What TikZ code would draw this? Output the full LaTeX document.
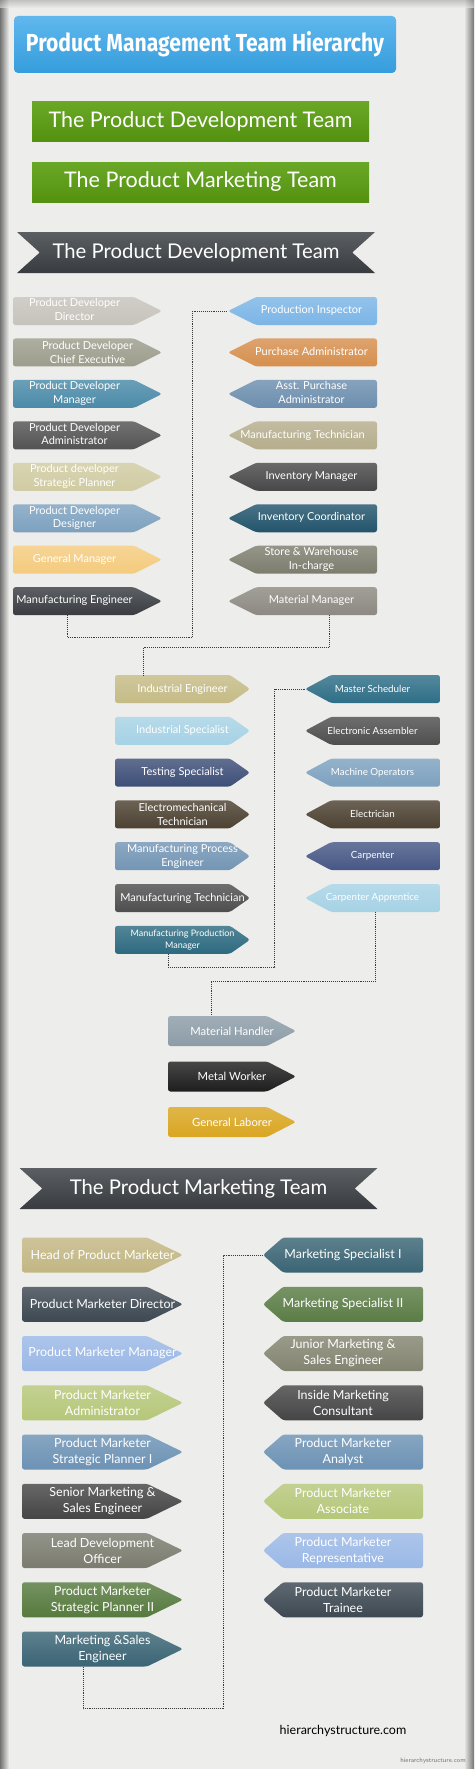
\documentclass[tikz,border=0pt]{standalone}
\usepackage{fontspec}
\setmainfont{Lato}
\newfontfamily\titlefont{Fira Sans}
\usepackage{tikz}
\usetikzlibrary{shapes.symbols,positioning}
\usepackage{xcolor}
\usepackage{graphicx}

\newcommand\padl[1]{\begin{tabular}{@{}c@{\hspace{26pt}}}#1\end{tabular}}
\newcommand\padr[1]{\begin{tabular}{@{\hspace{18pt}}c@{}}#1\end{tabular}}

\definecolor{paper}{HTML}{EDEDEB}
\definecolor{titleblue}{HTML}{38A5E8}
\definecolor{teamgreen}{HTML}{5A9E10}
\definecolor{ribbongray}{HTML}{3E4246}
\definecolor{linkgray}{HTML}{3A3A3A}

\definecolor{cA}{HTML}{C6C3BC}
\definecolor{cB}{HTML}{9C9D8C}
\definecolor{cC}{HTML}{4A8AA8}
\definecolor{cD}{HTML}{535353}
\definecolor{cE}{HTML}{D0CBA2}
\definecolor{cF}{HTML}{7DA1BF}
\definecolor{cG}{HTML}{F4CB7E}
\definecolor{cH}{HTML}{393C41}
\definecolor{cI}{HTML}{7BB5E6}
\definecolor{cJ}{HTML}{D68F4E}
\definecolor{cK}{HTML}{6C8EAE}
\definecolor{cL}{HTML}{B5AD8C}
\definecolor{cM}{HTML}{484848}
\definecolor{cN}{HTML}{22546B}
\definecolor{cO}{HTML}{7D7D6E}
\definecolor{cP}{HTML}{8D8982}
\definecolor{cQ}{HTML}{C5BB86}
\definecolor{cR}{HTML}{A6D2E5}
\definecolor{cS}{HTML}{3D4E77}
\definecolor{cT}{HTML}{4C4131}
\definecolor{cU}{HTML}{7395B4}
\definecolor{cV}{HTML}{4E4E4E}
\definecolor{cW}{HTML}{2D6A80}
\definecolor{cX}{HTML}{2E6E87}
\definecolor{cY}{HTML}{465785}
\definecolor{cZ}{HTML}{8C9CA7}
\definecolor{cmw}{HTML}{1E1E1E}
\definecolor{cgl}{HTML}{D9A621}
\definecolor{mA}{HTML}{C2B682}
\definecolor{mB}{HTML}{3D4852}
\definecolor{mC}{HTML}{9AB8E6}
\definecolor{mD}{HTML}{B5C779}
\definecolor{mE}{HTML}{6C92B4}
\definecolor{mF}{HTML}{454545}
\definecolor{mG}{HTML}{7B7C6F}
\definecolor{mH}{HTML}{567A3E}
\definecolor{mI}{HTML}{3A6474}
\definecolor{mJ}{HTML}{5A7C45}
\definecolor{mK}{HTML}{838470}

\begin{document}
\begin{tikzpicture}[x=1pt,y=-1pt,line width=0.2mm,
  tiplen/.store in=\tagtip, tiplen=28pt,
  tagbase/.style={rectangle,text=white,draw=none,inner sep=0.5pt,
    minimum width=149pt,minimum height=28pt,node distance=41.45pt,
    font=\fontsize{11}{13.5}\selectfont},
  tagR/.style={tagbase,path picture={\shade[top color=#1!82!white,bottom color=#1,rounded corners=2.5pt]
    (path picture bounding box.north west) -- ([xshift=-\tagtip]path picture bounding box.north east)
    -- (path picture bounding box.east) -- ([xshift=-\tagtip]path picture bounding box.south east)
    -- (path picture bounding box.south west) -- cycle;}},
  tagL/.style={tagbase,path picture={\shade[top color=#1!82!white,bottom color=#1,rounded corners=2.5pt]
    (path picture bounding box.west) -- ([xshift=\tagtip]path picture bounding box.north west)
    -- (path picture bounding box.north east) -- (path picture bounding box.south east)
    -- ([xshift=\tagtip]path picture bounding box.south west) -- cycle;}},
  devR/.style={tagR=#1,align=center},
  devL/.style={tagL=#1,align=center},
  midR/.style={tagR=#1,align=center,tiplen=20pt,minimum width=135pt,node distance=41.8pt,
    font=\fontsize{11}{14}\selectfont},
  midL/.style={tagL=#1,align=center,tiplen=26pt,minimum width=135pt,node distance=41.8pt,
    font=\fontsize{9.8}{12}\selectfont},
  lowR/.style={tagR=#1,align=center,tiplen=29pt,minimum width=128pt,minimum height=30pt,node distance=45.5pt,
    font=\fontsize{11.3}{13}\selectfont},
  mktR/.style={tagR=#1,align=center,tiplen=36pt,minimum width=161pt,minimum height=35pt,node distance=49.25pt,
    font=\fontsize{12.5}{16}\selectfont},
  mktL/.style={tagL=#1,align=center,tiplen=20pt,minimum width=160pt,minimum height=35pt,node distance=49.25pt,
    font=\fontsize{12.5}{16}\selectfont},
  ribbon/.style={signal,signal to=nowhere,signal from=west and east,signal pointer angle=84,
    top color=ribbongray!85!white,bottom color=ribbongray!90!black,text=white,
    minimum width=358pt,minimum height=41pt,inner sep=0pt,font=\fontsize{20.3}{21}\selectfont},
  teambox/.style={rectangle,top color=teamgreen!90!white,bottom color=teamgreen!92!black,text=white,
    minimum width=337pt,minimum height=40pt,font=\fontsize{21.5}{22}\selectfont},
  link/.style={densely dotted,line width=0.9pt,draw=linkgray}]

  \fill[paper] (0,0) rectangle (474,1769);
  \shade[left color=black!55,right color=paper] (0,0) rectangle (9,1769);
  \shade[left color=paper,right color=black!55] (464,0) rectangle (474,1769);
  \shade[top color=black!35,bottom color=paper,opacity=0.6] (0,0) rectangle (474,8);

  \node[rectangle,rounded corners=4pt,top color=titleblue!80!white,bottom color=titleblue!95!black,
    minimum width=382pt,minimum height=57pt,text=white] (title) at (205,44.5)
    {\resizebox{358pt}{20pt}{\titlefont\bfseries Product Management Team Hierarchy}};
  \node[teambox] (devteam) at (200.5,121) {The Product Development Team};
  \node[teambox] (mktteam) at (200.5,182) {The Product Marketing Team};

  \node[ribbon] (devribbon) at (196,252.5) {The Product Development Team};

  \node[devR=cA] (pdd)  at (87.5,311)   {\padl{Product Developer\\Director}};
  \node[devR=cB] (pdce) [below of=pdd]  {Product Developer\\Chief Executive};
  \node[devR=cC] (pdm)  [below of=pdce] {\padl{Product Developer\\Manager}};
  \node[devR=cD] (pda)  [below of=pdm]  {\padl{Product Developer\\Administrator}};
  \node[devR=cE] (pdsp) [below of=pda]  {\padl{Product developer\\Strategic Planner}};
  \node[devR=cF] (pdds) [below of=pdsp] {\padl{Product Developer\\Designer}};
  \node[devR=cG] (gm)   [below of=pdds] {\padl{General Manager}};
  \node[devR=cH] (me)   [below of=gm]   {\padl{Manufacturing Engineer}};

  \node[devL=cI] (pi)  at (302.5,311) {\padr{Production Inspector}};
  \node[devL=cJ] (pa)  [below of=pi]  {\padr{Purchase Administrator}};
  \node[devL=cK] (apa) [below of=pa]  {\padr{Asst. Purchase\\Administrator}};
  \node[devL=cL] (mt)  [below of=apa] {Manufacturing Technician};
  \node[devL=cM] (im)  [below of=mt]  {\padr{Inventory Manager}};
  \node[devL=cN] (ic)  [below of=im]  {\padr{Inventory Coordinator}};
  \node[devL=cO] (sw)  [below of=ic]  {\padr{Store \& Warehouse\\In-charge}};
  \node[devL=cP] (mm)  [below of=sw]  {\padr{Material Manager}};

  \node[midR=cQ] (ie)  at (182.5,689) {Industrial Engineer};
  \node[midR=cR] (is)  [below of=ie]  {Industrial Specialist};
  \node[midR=cS] (ts)  [below of=is]  {Testing Specialist};
  \node[midR=cT] (emt) [below of=ts]  {Electromechanical\\Technician};
  \node[midR=cU] (mpe) [below of=emt] {Manufacturing Process\\Engineer};
  \node[midR=cV] (mtc) [below of=mpe] {Manufacturing Technician};
  \node[midR=cW,font=\fontsize{9}{11.5}\selectfont] (mpm) [below of=mtc] {Manufacturing Production\\Manager};

  \node[midL=cX] (msch) at (372.5,689)  {Master Scheduler};
  \node[midL=cV] (ea)   [below of=msch] {Electronic Assembler};
  \node[midL=cF] (mo)   [below of=ea]   {Machine Operators};
  \node[midL=cT] (el)   [below of=mo]   {Electrician};
  \node[midL=cY] (ca)   [below of=el]   {Carpenter};
  \node[midL=cR] (cap)  [below of=ca]   {Carpenter Apprentice};

  \node[lowR=cZ]  (mh) at (232,1031)  {Material Handler};
  \node[lowR=cmw] (mw) [below of=mh]  {Metal Worker};
  \node[lowR=cgl] (gl) [below of=mw]  {General Laborer};

  \node[ribbon] (mktribbon) at (198.5,1188.5) {The Product Marketing Team};

  \node[mktR=mA] (hpm)   at (102.5,1255)  {Head of Product Marketer};
  \node[mktR=mB] (pmd)   [below of=hpm]   {Product Marketer Director};
  \node[mktR=mC] (pmm)   [below of=pmd]   {Product Marketer Manager};
  \node[mktR=mD] (pma)   [below of=pmm]   {Product Marketer\\Administrator};
  \node[mktR=mE] (pmsp1) [below of=pma]   {Product Marketer\\Strategic Planner I};
  \node[mktR=mF] (smse)  [below of=pmsp1] {Senior Marketing \&\\Sales Engineer};
  \node[mktR=mG] (ldo)   [below of=smse]  {Lead Development\\Officer};
  \node[mktR=mH] (pmsp2) [below of=ldo]   {Product Marketer\\Strategic Planner II};
  \node[mktR=mI] (mse)   [below of=pmsp2] {Marketing \&Sales\\Engineer};

  \node[mktL=mI] (ms1)  at (343,1255)   {Marketing Specialist I};
  \node[mktL=mJ] (ms2)  [below of=ms1]  {Marketing Specialist II};
  \node[mktL=mK] (jmse) [below of=ms2]  {Junior Marketing \&\\Sales Engineer};
  \node[mktL=mF] (imc)  [below of=jmse] {Inside Marketing\\Consultant};
  \node[mktL=mE] (pman) [below of=imc]  {Product Marketer\\Analyst};
  \node[mktL=mD] (pmas) [below of=pman] {Product Marketer\\Associate};
  \node[mktL=mC] (pmr)  [below of=pmas] {Product Marketer\\Representative};
  \node[mktL=mB] (pmt)  [below of=pmr]  {Product Marketer\\Trainee};

  \node[font=\fontsize{12.5}{14}\selectfont] (site) at (343,1731) {hierarchystructure.com};
  \node[font=\fontsize{6.5}{7}\selectfont\sffamily,text=black!55] (mark) at (433,1761) {hierarchystructure.com};

  \draw[link] ([xshift=-20.5pt]me.south) -- ++(0,22) -| ([xshift=-35pt]pi.west) -- (pi.west);
  \draw[link] ([xshift=26.5pt]mm.south) -- ++(0,32) -| ([xshift=-39.5pt]ie.north);
  \draw[link] ([xshift=-14.5pt]mpm.south) -- ++(0,13) -| ([xshift=-30pt]msch.west) -- (msch.west);
  \draw[link] ([xshift=2.5pt]cap.south) -- ++(0,69) -| ([xshift=-21pt]mh.north);
  \draw[link] ([xshift=-19.5pt]mse.south) -- ++(0,42) -| ([xshift=-39pt]ms1.west) -- (ms1.west);
\end{tikzpicture}
\end{document}
